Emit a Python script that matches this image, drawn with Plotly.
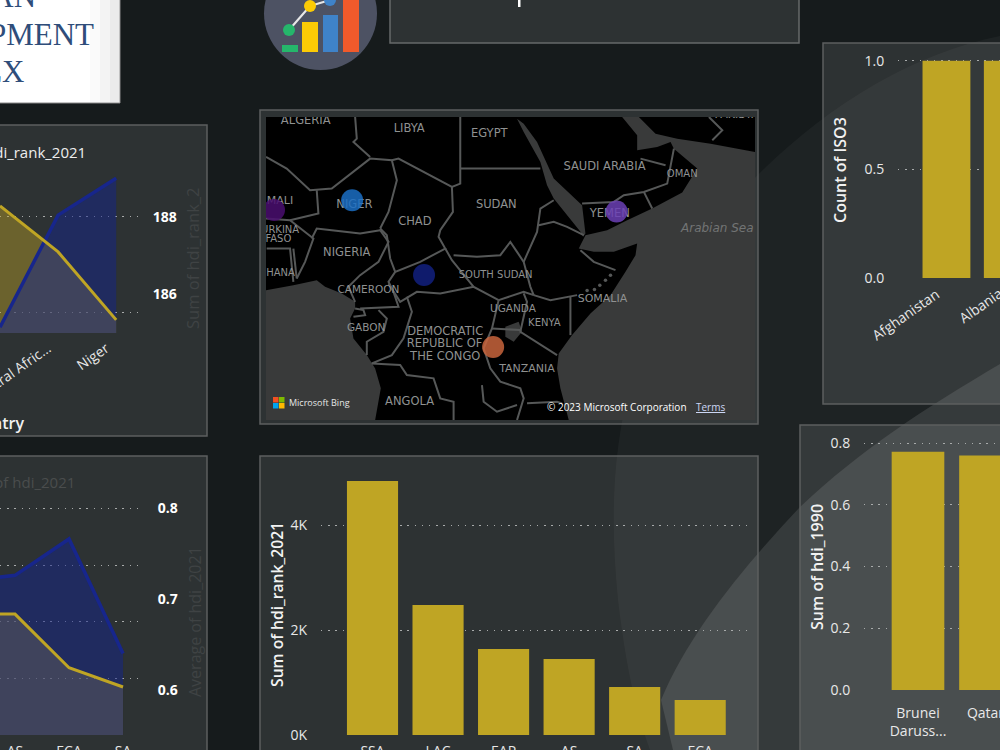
import plotly.graph_objects as go

# ---------- chart data ----------
rank_countries = ["Yemen", "Central Afric...", "Niger"]
rank_hdi_yellow = [0.3115, 0.2635, 0.1927]
rank_blue = [185.14, 188.05, 189.01]

region_labels = ["EAP", "AS", "ECA", "SA"]
region_yellow = [0.515, 0.514, 0.419, 0.385]
region_blue = [0.719, 0.726, 0.766, 0.640]

rank_regions = ["SSA", "LAC", "EAP", "AS", "SA", "ECA"]
rank_sum = [4838, 2476, 1638, 1448, 914, 667]

iso_countries = ["Afghanistan", "Albania"]
iso_count = [1, 1]

hdi90_countries = ["Brunei<br>Daruss...", "Qatar"]
hdi90_values = [0.772, 0.760]

bubble_names = ["Mali", "Niger", "Central African Republic", "Yemen", "Burundi"]
bubble_lon = [-3.56, 8.08, 18.8, 47.5, 29.1]
bubble_lat = [16.2, 17.6, 6.9, 16.0, -3.4]
bubble_colors = ["#4a0e70", "#1b6fc4", "#12207f", "#6b3fb5", "#c8643c"]

# map geography, digitised on the picture
sea_west = [(18,555),(100,540),(170,525),(195,545),(245,565),(285,590),(285,610),(270,640),(280,700),(320,750),(345,790),(362,850),(345,945),(18,945)]
sea_east = [(1085,35),(1130,90),(1130,135),(1190,125),(1230,110),(1240,130),(1310,190),(1265,262),(1175,310),(1100,345),(1040,375),(975,390),(955,430),(1000,440),(1060,440),(1130,415),(1125,450),(1095,500),(1050,570),(990,625),(935,690),(895,745),(890,790),(900,850),(925,945),(1483,945),(1483,140),(1350,115),(1250,100),(1185,85),(1135,35)]
sea_red = [(770,40),(790,80),(840,170),(860,240),(880,280),(960,380),(968,395),(975,385),(965,300),(880,220),(830,110),(790,55)]
lake_victoria = [(735,665),(775,650),(785,680),(760,710),(735,695)]
map_borders = [
    [(285,35),(290,100),(280,110),(330,155)],
    [(18,155),(80,190),(150,255),(215,250),(330,160),(395,165),(410,225),(385,320),(360,370)],
    [(395,165),(415,160),(575,245),(600,235),(600,35)],
    [(600,190),(840,190)],
    [(575,245),(578,320),(540,375),(535,395),(555,430),(480,470),(405,500),(390,460),(380,390),(360,370)],
    [(360,375),(300,385),(215,375),(170,370),(155,400)],
    [(170,255),(175,325),(90,345)],
    [(18,340),(90,345),(160,400),(135,470),(110,520)],
    [(360,375),(385,410),(355,470),(300,510),(265,545),(285,590)],
    [(405,500),(385,530),(400,560),(415,605),(300,610)],
    [(385,535),(420,590),(470,560),(540,565),(640,545),(715,585)],
    [(555,430),(575,465),(640,545)],
    [(580,450),(650,455),(720,450),(750,410),(770,440),(790,470),(810,545),(820,570),(790,560),(715,585)],
    [(790,470),(830,380),(840,310),(880,285)],
    [(835,360),(880,350),(920,365),(970,390)],
    [(960,435),(1000,470),(1065,495)],
    [(820,570),(870,585),(950,570)],
    [(930,575),(930,690)],
    [(790,565),(800,590),(780,680),(890,750)],
    [(695,670),(780,675)],
    [(715,585),(695,670),(670,730),(690,790),(720,830),(780,850),(790,880),(770,945)],
    [(440,575),(455,620),(430,700),(395,750),(335,775),(420,780),(440,810),(520,820),(540,880),(580,890),(580,945)],
    [(285,610),(310,615),(315,630),(280,635)],
    [(355,615),(380,640),(370,680),(320,710),(320,750)],
    [(800,895),(890,890),(905,895)],
    [(665,840),(670,890),(710,920),(770,900)],
    [(965,295),(1060,290),(1090,270),(1150,260),(1220,235),(1230,180),(1240,130)],
    [(1150,260),(1175,310)],
    [(1140,160),(1215,180)],
    [(1345,35),(1385,75),(1355,105)],
    [(100,430),(110,520)],
    [(20,430),(90,430),(100,530)],
]
somalia_dots = [(1050,510),(1035,525),(1018,540),(1002,553),(980,556)]
map_labels = ["ALGERIA","LIBYA","EGYPT","SAUDI ARABIA","OMAN","MALI","NIGER","CHAD","SUDAN","YEMEN","BURKINA","FASO","NIGERIA","GHANA","SOUTH SUDAN","CAMEROON","SOMALIA","UGANDA","KENYA","GABON","DEMOCRATIC","REPUBLIC OF","THE CONGO","TANZANIA","ANGOLA","PAKISTAN"]
map_label_pos = [(137,48),(447,70),(687,85),(1032,185),(1265,209),(60,287),(283,300),(464,351),(708,300),(1048,328),(50,375),(55,404),(260,445),(50,505),(706,512),(325,555),(1026,582),(758,613),(852,656),(318,670),(555,680),(553,718),(555,755),(800,792),(448,892),(1440,30)]
map_label_sizes = [11.5,11.5,11.5,11.5,10,11,11.5,11.5,11.5,11.5,10,10,11.5,10,10,10.5,11,10.5,10,10.5,11.5,11.5,11.5,11,11.5,11]

# ---------- helpers ----------
W, H = 1000, 750
FONT = "Open Sans, Noto Sans, sans-serif"
GOLD, NAVY = "#bfa524", "#17268c"
GRID = "#a8abab"
DOTS = "1.4px,5.8px"

def fx(p): return p / W
def fy(p): return 1 - p / H
def dom_x(a, b): return [fx(a), fx(b)]
def dom_y(top, bottom): return [fy(bottom), fy(top)]
def lon(zx): return ((260 + zx / 3) - 352) / 6.7 + 8.08
def lat(zy): return 17.6 - ((105 + zy / 3) - 200) / 7

def rect(x0, y0, x1, y1, fill, line="rgba(0,0,0,0)", width=0, layer="below"):
    return dict(type="rect", xref="paper", yref="paper", x0=fx(x0), x1=fx(x1), y0=fy(y0), y1=fy(y1),
                fillcolor=fill, line=dict(color=line, width=width), layer=layer)

def note(x, y, text, size=13, color="#e8e8e8", anchor="center", angle=0, weight=400, family=FONT):
    return dict(xref="paper", yref="paper", x=fx(x), y=fy(y), text=text, showarrow=False, xanchor=anchor,
                yanchor="middle", textangle=angle, font=dict(size=size, color=color, family=family, weight=weight))

fig = go.Figure()

# ---- chart A : rank by country
fig.add_trace(go.Scatter(x=rank_countries, y=rank_hdi_yellow, xaxis="x", yaxis="y", mode="none", fill="tozeroy",
                         fillcolor="rgba(192,165,37,0.42)", showlegend=False))
fig.add_trace(go.Scatter(x=rank_countries, y=rank_blue, xaxis="x", yaxis="y2", mode="lines", fill="tozeroy",
                         fillcolor="rgba(20,35,140,0.5)", line=dict(color=NAVY, width=3.5), showlegend=False))
fig.add_trace(go.Scatter(x=rank_countries, y=rank_hdi_yellow, xaxis="x", yaxis="y9", mode="lines",
                         line=dict(color=GOLD, width=3), showlegend=False))
# ---- chart B : hdi by region
fig.add_trace(go.Scatter(x=region_labels, y=region_yellow, xaxis="x2", yaxis="y3", mode="none", fill="tozeroy",
                         fillcolor="rgba(192,165,37,0.42)", showlegend=False))
fig.add_trace(go.Scatter(x=region_labels, y=region_blue, xaxis="x2", yaxis="y4", mode="lines", fill="tozeroy",
                         fillcolor="rgba(20,35,140,0.5)", line=dict(color=NAVY, width=3.5), showlegend=False))
fig.add_trace(go.Scatter(x=region_labels, y=region_yellow, xaxis="x2", yaxis="y10", mode="lines",
                         line=dict(color=GOLD, width=3), showlegend=False))
# ---- bars
fig.add_trace(go.Bar(x=rank_regions, y=rank_sum, xaxis="x3", yaxis="y5", marker_color=GOLD, showlegend=False))
fig.add_trace(go.Bar(x=iso_countries, y=iso_count, xaxis="x4", yaxis="y6", marker_color=GOLD, showlegend=False))
fig.add_trace(go.Bar(x=hdi90_countries, y=hdi90_values, xaxis="x5", yaxis="y7", marker_color=GOLD, showlegend=False))

# ---- map
for poly in (sea_west, sea_east, sea_red, lake_victoria):
    fig.add_trace(go.Scatter(x=[lon(p[0]) for p in poly], y=[lat(p[1]) for p in poly], xaxis="x6", yaxis="y8",
                             mode="none", fill="toself", fillcolor="#393a3a", showlegend=False))
bx, by = [], []
for line in map_borders:
    bx += [lon(p[0]) for p in line] + [None]
    by += [lat(p[1]) for p in line] + [None]
fig.add_trace(go.Scatter(x=bx, y=by, xaxis="x6", yaxis="y8", mode="lines", line=dict(color="#565858", width=2),
                         showlegend=False))
fig.add_trace(go.Scatter(x=[lon(p[0]) for p in somalia_dots], y=[lat(p[1]) for p in somalia_dots], xaxis="x6", yaxis="y8",
                         mode="markers", marker=dict(color="#565858", size=3.5), showlegend=False))
fig.add_trace(go.Scatter(x=[lon(p[0]) for p in map_label_pos], y=[lat(p[1]) for p in map_label_pos], xaxis="x6", yaxis="y8",
                         mode="text", text=map_labels, textposition="middle center",
                         textfont=dict(color="#8f9191", size=map_label_sizes, family="DejaVu Sans"), showlegend=False))
fig.add_trace(go.Scatter(x=[lon(1370)], y=[lat(372)], xaxis="x6", yaxis="y8", mode="text", text=["Arabian Sea"],
                         textposition="middle center",
                         textfont=dict(color="#727474", size=12, family="DejaVu Sans", style="italic"), showlegend=False))
fig.add_trace(go.Scatter(x=bubble_lon, y=bubble_lat, xaxis="x6", yaxis="y8", mode="markers", text=bubble_names,
                         marker=dict(color=bubble_colors, size=22, opacity=0.85, line=dict(width=0)), showlegend=False))

hidden = dict(visible=False, showgrid=False, zeroline=False, automargin=False)
tick = dict(size=14, color="#e8e8e8", family=FONT)
boldtick = dict(size=14, color="#ffffff", family=FONT, weight=700)
grid = dict(showgrid=True, gridcolor=GRID, griddash=DOTS, gridwidth=1, zeroline=False, showline=False, automargin=False)
CLEAR = "rgba(0,0,0,0)"
xcommon = dict(type="category", categoryorder="array", tickfont=tick, showgrid=False, zeroline=False, showline=False,
               ticks="outside", tickcolor=CLEAR, automargin=False)

layout = dict(
    template="none",
    width=W, height=H, margin=dict(l=0, r=0, t=0, b=0, pad=0), autosize=False,
    paper_bgcolor="#161b1c", plot_bgcolor=CLEAR, bargap=0.22, font=dict(family=FONT),
    # chart A
    xaxis=dict(domain=dom_x(0, 140), range=[0, 2.41], categoryarray=rank_countries, anchor="y", tickangle=-35, ticklen=1,
               tickvals=rank_countries[1:], ticklabelshift=-10, **xcommon),
    yaxis=dict(domain=dom_y(130, 333), range=[0.179, 0.3906], tickvals=[0.2, 0.3], showticklabels=False, anchor="x", ticks="", **grid),
    yaxis2=dict(domain=dom_y(130, 333), range=[184.99, 190.26], overlaying="y", side="right", anchor="x", tickvals=[186, 188],
                tickfont=boldtick, showgrid=False, zeroline=False, showline=False,
                ticks="outside", ticklen=9, tickcolor=CLEAR, automargin=False),
    yaxis9=dict(domain=dom_y(130, 333), range=[0.179, 0.3906], overlaying="y", anchor="x", **hidden),
    # chart B
    xaxis2=dict(domain=dom_x(0, 143), range=[0.722, 3.37], categoryarray=region_labels, anchor="y3", ticklen=3, **xcommon),
    yaxis3=dict(domain=dom_y(470, 735), range=[0.3, 0.769], tickvals=[0.3, 0.4, 0.5, 0.6, 0.7], showticklabels=False, anchor="x2", ticks="", **grid),
    yaxis4=dict(domain=dom_y(470, 735), range=[0.5505, 0.8418], overlaying="y3", side="right", anchor="x2", tickvals=[0.6, 0.7, 0.8],
                tickformat=".1f", tickfont=boldtick, showgrid=False, zeroline=False, showline=False,
                ticks="outside", ticklen=11, tickcolor=CLEAR, automargin=False),
    yaxis10=dict(domain=dom_y(470, 735), range=[0.3, 0.769], overlaying="y3", anchor="x2", **hidden),
    # chart C
    xaxis3=dict(domain=dom_x(321, 750), range=[-0.786, 5.76], categoryarray=rank_regions, anchor="y5", ticklen=3, **xcommon),
    yaxis5=dict(domain=dom_y(470, 735), range=[0, 5048], tickvals=[0, 2000, 4000], ticktext=["0K", "2K", "4K"], anchor="x3",
                tickfont=tick, ticks="outside", ticklen=10, tickcolor=CLEAR, **grid),
    # chart D
    xaxis4=dict(domain=dom_x(898, 1000), range=[-0.79, 0.873], categoryarray=iso_countries, anchor="y6", tickangle=-35, ticklen=2,
                ticklabelshift=-10, **xcommon),
    yaxis6=dict(domain=dom_y(50, 278), range=[0, 1.05], tickvals=[0, 0.5, 1], tickformat=".1f", anchor="x4",
                tickfont=tick, ticks="outside", ticklen=10, tickcolor=CLEAR, **grid),
    # chart E
    xaxis5=dict(domain=dom_x(864, 1000), range=[-0.8, 1.215], categoryarray=hdi90_countries, anchor="y7", ticklen=10, **xcommon),
    yaxis7=dict(domain=dom_y(435, 690), range=[0, 0.826], tickvals=[0, 0.2, 0.4, 0.6, 0.8], tickformat=".1f", anchor="x5",
                tickfont=tick, ticks="outside", ticklen=10, tickcolor=CLEAR, **grid),
    # map
    xaxis6=dict(domain=dom_x(266, 755), range=[lon(18), lon(1483)], anchor="y8", **hidden),
    yaxis8=dict(domain=dom_y(117, 420), range=[lat(945), lat(35)], anchor="x6", **hidden),
)

BG1 = "rgba(255,255,255,0.035)"
BG2 = "rgba(255,255,255,0.105)"
PANEL = "rgba(255,255,255,0.10)"
EDGE = "#5c5f5f"

def bezier_path(d, fill):
    return dict(type="path", xref="paper", yref="paper", path=d, fillcolor=fill, line=dict(width=0), layer="below")

def P(x, y): return f"{fx(x):.5f},{fy(y):.5f}"

outer = f"M {P(1000,36)} C {P(880,60)} {P(760,150)} {P(680,270)} C {P(620,370)} {P(605,470)} {P(618,600)} C {P(625,660)} {P(635,710)} {P(650,750)} L {P(1000,750)} Z"
inner = f"M {P(1000,364)} C {P(927,407)} {P(860,450)} {P(800,507)} C {P(750,560)} {P(690,630)} {P(661,700)} L {P(673,750)} L {P(1000,750)} Z"

shapes = [
    bezier_path(outer, BG1), bezier_path(inner, BG2),
    rect(-5, 125, 207, 436, PANEL, EDGE, 1.5),
    rect(-5, 456, 207, 760, PANEL, EDGE, 1.5),
    rect(260, 456, 758, 760, PANEL, EDGE, 1.5),
    rect(823, 43, 1010, 404, PANEL, EDGE, 1.5),
    rect(800, 425, 1010, 760, PANEL, EDGE, 1.5),
    rect(390, -5, 799, 43, PANEL, "#666969", 1.5),
    rect(260, 110, 758, 424, PANEL, EDGE, 1.5),
    rect(266, 117, 755, 420, "#000000"),
    rect(518, -2, 520.5, 7, "#ffffff"),
    # report logo
    rect(-5, -5, 120, 103, "#ffffff", "#888888", 1),
    rect(90, -5, 120, 103, "rgba(190,190,190,0.08)"),
    rect(100, -5, 120, 103, "rgba(190,190,190,0.10)"),
    rect(110, -5, 120, 103, "rgba(190,190,190,0.14)"),
    # icon
    dict(type="circle", xref="paper", yref="paper", x0=fx(264), x1=fx(377), y0=fy(70), y1=fy(-43), fillcolor="#4d5263", line=dict(width=0), layer="below"),
    rect(282, 45, 298, 52, "#25b76b"), rect(302, 22, 318, 52, "#fccb05"),
    rect(323, 15, 338, 52, "#3f83c9"), rect(343, -2, 359, 52, "#f05a2b"),
    dict(type="line", xref="paper", yref="paper", x0=fx(289), y0=fy(30), x1=fx(310), y1=fy(6), line=dict(color="#e8e8e8", width=2), layer="below"),
    dict(type="line", xref="paper", yref="paper", x0=fx(310), y0=fy(6), x1=fx(330), y1=fy(0), line=dict(color="#e8e8e8", width=2), layer="below"),
    dict(type="circle", xref="paper", yref="paper", x0=fx(283), x1=fx(295), y0=fy(36), y1=fy(24), fillcolor="#25b76b", line=dict(width=0), layer="below"),
    dict(type="circle", xref="paper", yref="paper", x0=fx(304), x1=fx(316), y0=fy(12), y1=fy(0), fillcolor="#fccb05", line=dict(width=0), layer="below"),
    dict(type="circle", xref="paper", yref="paper", x0=fx(324), x1=fx(336), y0=fy(6), y1=fy(-6), fillcolor="#3f83c9", line=dict(width=0), layer="below"),
    # bing logo
    rect(273, 397, 278.5, 402.5, "#f25022", layer="above"), rect(279, 397, 284.5, 402.5, "#7fba00", layer="above"),
    rect(273, 403, 278.5, 408.5, "#00a4ef", layer="above"), rect(279, 403, 284.5, 408.5, "#ffb900", layer="above"),
]
layout["shapes"] = shapes

SERIF = "Liberation Serif, serif"
layout["annotations"] = [
    note(38, -3, "HUMAN", 31, "#2f4d7a", "right", family=SERIF),
    note(96, 34, "DEVELOPMENT", 31, "#2f4d7a", "right", family=SERIF),
    note(26, 72, "INDEX", 31, "#2f4d7a", "right", family=SERIF),
    note(88, 152, "hdi_rank_2021", 15, "#eeeeee", "right"),
    note(26, 423, "Country", 16, "#f2f2f2", "right", weight=600),
    note(193, 259, "Sum of hdi_rank_2", 16.5, "#3f4344", angle=-90),
    note(77, 482, "Average of hdi_2021", 15, "#4a4d4d", "right"),
    note(195, 622, "Average of hdi_2021", 16, "#3f4344", angle=-90),
    note(277, 605, "Sum of hdi_rank_2021", 15.7, "#f2f2f2", angle=-90, weight=600),
    note(840, 170, "Count of ISO3", 16, "#f2f2f2", angle=-90, weight=600),
    note(817, 567, "Sum of hdi_1990", 16, "#f2f2f2", angle=-90, weight=600),
    note(980, 305, "Albania", 14, "#e8e8e8", angle=-35),
    note(287, 402.5, "Microsoft Bing", 9, "#e6e6e6", "left"),
    note(617, 407, "© 2023 Microsoft Corporation", 10, "#ffffff"),
    note(710, 407, "<u>Terms</u>", 10, "#cdd6f4"),
]

fig.update_layout(**layout)
fig.write_html("out.html", config=dict(displayModeBar=False),
               post_script="document.body.style.margin='0';document.body.style.overflow='hidden';document.body.style.background='#161b1c';")
